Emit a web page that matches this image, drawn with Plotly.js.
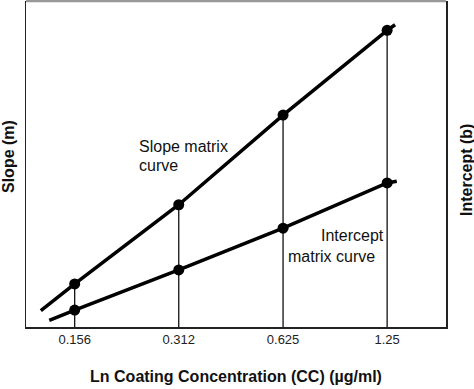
<!DOCTYPE html>
<html>
<head>
<meta charset="utf-8">
<script src="https://cdn.plot.ly/plotly-3.0.1.min.js"></script>
<style>html,body{margin:0;padding:0;background:#fff;}#chart{width:474px;height:389px;}</style>
</head>
<body>
<div id="chart"></div>
<script>
// Coating concentrations (µg/ml), log axis
const concentrations = [0.156, 0.312, 0.625, 1.25];
const tickLabels = ["0.156", "0.312", "0.625", "1.25"];
// Values (arbitrary units, 0–10)
const slopeValues = [1.32, 3.75, 6.5, 9.1];
const interceptValues = [0.52, 1.75, 3.03, 4.42];
// Extended fitted-line ends
const slopeLineX = [0.1245, 1.318];
const slopeLineY = [0.50, 9.27];
const interceptLineX = [0.1317, 1.333];
const interceptLineY = [0.20, 4.47];

const traces = [];
// Drop lines from each slope point down to the axis
concentrations.forEach((c, i) => {
  traces.push({x: [c, c], y: [0, slopeValues[i]], mode: 'lines', line: {color: '#111', width: 1.3}, hoverinfo: 'skip', showlegend: false});
});
traces.push({
  x: [slopeLineX[0], ...concentrations, slopeLineX[1]],
  y: [slopeLineY[0], ...slopeValues, slopeLineY[1]],
  mode: 'lines', line: {color: '#000', width: 3.5}, showlegend: false
});
traces.push({
  x: [interceptLineX[0], ...concentrations, interceptLineX[1]],
  y: [interceptLineY[0], ...interceptValues, interceptLineY[1]],
  mode: 'lines', line: {color: '#000', width: 3.5}, showlegend: false
});
traces.push({x: concentrations, y: slopeValues, mode: 'markers', marker: {color: '#000', size: 11}, showlegend: false});
traces.push({x: concentrations, y: interceptValues, mode: 'markers', marker: {color: '#000', size: 11}, showlegend: false});

const F = '"Liberation Sans", Arial, sans-serif';
const layout = {
  width: 474, height: 389,
  margin: {l: 26, r: 28, t: 1, b: 62},
  paper_bgcolor: '#fff', plot_bgcolor: '#fff',
  showlegend: false,
  font: {family: F},
  xaxis: {
    type: 'log', range: [-0.9477, 0.2672],
    tickvals: concentrations, ticktext: tickLabels,
    ticks: '', showgrid: false, zeroline: false,
    showline: true, linecolor: '#222', linewidth: 1.5, mirror: false,
    tickfont: {family: F, size: 13, color: '#222'},
    title: {text: 'Ln Coating Concentration (CC) (µg/ml)', font: {family: F, size: 16, color: '#111', weight: 'bold'}, standoff: 24}
  },
  yaxis: {
    range: [0, 10], showticklabels: false, ticks: '', showgrid: false, zeroline: false,
    showline: true, linecolor: '#222', linewidth: 1.5, mirror: true
  },
  shapes: [
    {type: 'line', xref: 'paper', yref: 'paper', x0: 0, x1: 1, y0: 1, y1: 1, line: {color: '#999', width: 2.5}}
  ],
  annotations: [
    {text: 'Slope matrix', x: 137, y: 146},
    {text: 'curve', x: 137, y: 165},
    {text: 'Intercept', x: 319, y: 236},
    {text: 'matrix curve', x: 286, y: 256},
  ].map(a => ({
    text: a.text, xref: 'paper', yref: 'paper',
    x: (a.x - 26) / 420, y: 1 - (a.y - 1) / 326,
    xanchor: 'left', yanchor: 'middle', showarrow: false,
    font: {family: F, size: 16, color: '#111'}
  })).concat([
    {text: '<b>Slope (m)</b>', xref: 'paper', yref: 'paper', x: (8 - 26) / 420, y: 1 - (157 - 1) / 326,
     xanchor: 'center', yanchor: 'middle', textangle: -90, showarrow: false, font: {family: F, size: 16, color: '#111'}},
    {text: '<b>Intercept (b)</b>', xref: 'paper', yref: 'paper', x: (466 - 26) / 420, y: 1 - (170 - 1) / 326,
     xanchor: 'center', yanchor: 'middle', textangle: -90, showarrow: false, font: {family: F, size: 16, color: '#111'}}
  ])
};

Plotly.newPlot('chart', traces, layout, {displayModeBar: false, staticPlot: true});
</script>
</body>
</html>
